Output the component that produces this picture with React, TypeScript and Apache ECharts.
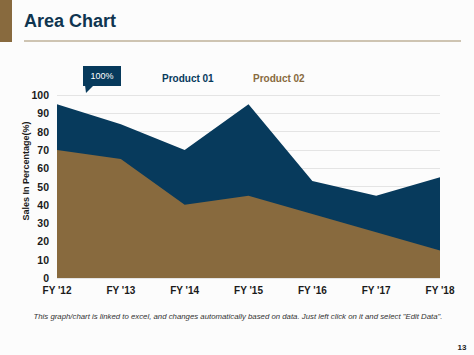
import React, { useEffect, useRef } from "react";
import * as echarts from "echarts";

const categories = ["FY '12", "FY '13", "FY '14", "FY '15", "FY '16", "FY '17", "FY '18"];
const product01 = [95, 84, 70, 95, 53, 45, 55];
const product02 = [70, 65, 40, 45, 35, 25, 15];
const seriesNames = ["Product 01", "Product 02"];
const yTicks = { min: 0, max: 100, interval: 10 };

const NAVY = "#073a5c";
const BROWN = "#886a3e";

export default function App() {
  const ref = useRef<HTMLDivElement>(null);
  useEffect(() => {
    if (!ref.current) return;
    const chart = echarts.init(ref.current, null, { renderer: "svg" });
    const font = "Liberation Sans, Arial, sans-serif";
    chart.setOption({
      animation: false,
      backgroundColor: "#fcfcfc",
      textStyle: { fontFamily: font },
      grid: { left: 57, right: 34, top: 95, bottom: 77 },
      xAxis: {
        type: "category",
        data: categories,
        boundaryGap: false,
        axisLine: { show: false },
        axisTick: { show: false },
        axisLabel: { color: "#1a1a1a", fontWeight: "bold", fontSize: 10, margin: 7, fontFamily: font },
        splitLine: { show: false },
      },
      yAxis: {
        type: "value",
        min: yTicks.min,
        max: yTicks.max,
        interval: yTicks.interval,
        axisLine: { show: false },
        axisTick: { show: false },
        axisLabel: { color: "#1a1a1a", fontWeight: "bold", fontSize: 10.5, margin: 8, fontFamily: font },
        splitLine: { lineStyle: { color: "#e4e4e4", width: 1 } },
      },
      series: [
        {
          name: seriesNames[0],
          type: "line",
          data: product01,
          symbol: "none",
          lineStyle: { width: 0, color: NAVY },
          itemStyle: { color: NAVY },
          areaStyle: { color: NAVY, opacity: 1 },
          z: 2,
        },
        {
          name: seriesNames[1],
          type: "line",
          data: product02,
          symbol: "none",
          lineStyle: { width: 0, color: BROWN },
          itemStyle: { color: BROWN },
          areaStyle: { color: BROWN, opacity: 1 },
          z: 3,
        },
      ],
      graphic: [
        { type: "rect", shape: { x: 0, y: 0, width: 12, height: 42 }, style: { fill: BROWN } },
        {
          type: "text",
          x: 24,
          y: 12,
          style: { text: "Area Chart", fill: "#0f3550", font: `bold 18px ${font}` },
        },
        { type: "line", shape: { x1: 24, y1: 41, x2: 461, y2: 41 }, style: { stroke: "#bfb29a", lineWidth: 1.5 } },
        {
          type: "text",
          x: 162,
          y: 78,
          style: { text: seriesNames[0], fill: NAVY, font: `bold 10px ${font}`, verticalAlign: "middle" },
        },
        {
          type: "text",
          x: 253,
          y: 78,
          style: { text: seriesNames[1], fill: BROWN, font: `bold 10px ${font}`, verticalAlign: "middle" },
        },
        {
          type: "text",
          x: 26,
          y: 171,
          rotation: Math.PI / 2,
          style: {
            text: "Sales In Percentage(%)",
            fill: "#1a1a1a",
            font: `bold 9px ${font}`,
            align: "center",
            verticalAlign: "middle",
          },
        },
        { type: "rect", shape: { x: 83, y: 66, width: 38, height: 20 }, style: { fill: NAVY } },
        { type: "polygon", shape: { points: [[85, 85], [94, 85], [86, 93]] }, style: { fill: NAVY } },
        {
          type: "text",
          x: 102,
          y: 76,
          style: { text: "100%", fill: "#ffffff", font: `9px ${font}`, align: "center", verticalAlign: "middle" },
        },
        {
          type: "text",
          x: 238,
          y: 316,
          style: {
            text: 'This graph/chart is linked to excel, and changes automatically based on data. Just left click on it and select "Edit Data".',
            fill: "#333333",
            font: `italic 7.8px ${font}`,
            align: "center",
            verticalAlign: "middle",
          },
        },
        {
          type: "text",
          x: 462,
          y: 347,
          style: { text: "13", fill: "#222222", font: `bold 8px ${font}`, align: "center", verticalAlign: "middle" },
        },
      ],
    });
    return () => chart.dispose();
  }, []);
  return <div ref={ref} style={{ position: "absolute", left: 0, top: 0, width: 474, height: 355 }} />;
}
